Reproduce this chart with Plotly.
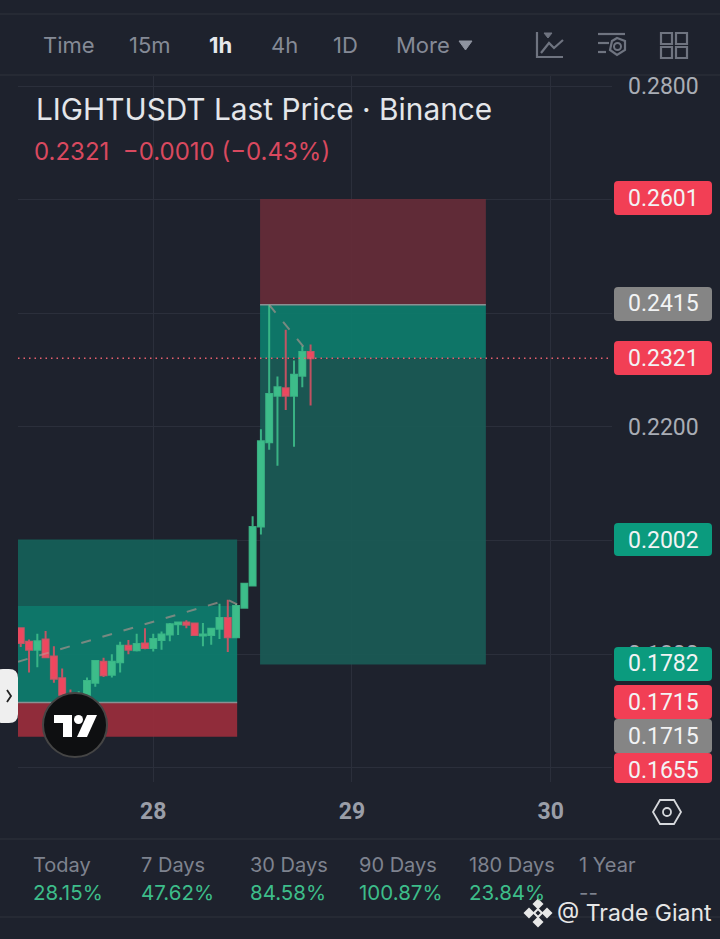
import pandas as pd
import plotly.graph_objects as go

# hourly candles, 27th 08:00 onwards
candle_times = pd.date_range("2025-11-27 08:00", periods=36, freq="h")
opens = [.1846, .1822, .1808, .1826, .1796, .1758, .1729, .1720, .1729, .1750, .1787, .1764,
         .1786, .1815, .1807, .1819, .1811, .1825, .1835, .1853, .1856, .1854, .1833, .1834,
         .1845, .1864, .1830, .1882, .1921, .2025, .2173, .2255, .2268, .2255, .2290, .2332]
highs = [.1846, .1826, .1836, .1841, .1814, .1775, .1738, .1735, .1759, .1789, .1794, .1800,
         .1822, .1825, .1836, .1846, .1836, .1840, .1855, .1857, .1860, .1855, .1855, .1846,
         .1889, .1896, .1889, .1924, .2043, .2196, .2415, .2289, .2371, .2317, .2342, .2345]
lows = [.1813, .1768, .1777, .1795, .1750, .1720, .1711, .1712, .1725, .1743, .1760, .1759,
        .1768, .1800, .1805, .1809, .1805, .1808, .1823, .1834, .1846, .1833, .1814, .1817,
        .1827, .1804, .1830, .1882, .1921, .2011, .2160, .2132, .2230, .2165, .2270, .2238]
closes = [.1820, .1808, .1823, .1795, .1757, .1729, .1720, .1729, .1753, .1788, .1763, .1787,
          .1815, .1808, .1818, .1811, .1827, .1835, .1853, .1856, .1852, .1834, .1835, .1845,
          .1864, .1830, .1885, .1924, .2024, .2175, .2258, .2270, .2255, .2292, .2332, .2321]

# the two long/short position tools: target, middle, entry, stop
first_trade_times = ["2025-11-27 06:00", "2025-11-28 10:08"]
first_trade_prices = [.2002, .1885, .1715, .1655]
second_trade_times = ["2025-11-28 12:54", "2025-11-29 16:10"]
second_trade_prices = [.2601, .2415, .2321, .1782]

# dashed paths inside each tool
first_path_times = ["2025-11-27 07:40", "2025-11-28 09:00", "2025-11-28 10:08"]
first_path_prices = [.1787, .1896, .1888]
second_path_times = ["2025-11-28 14:00", "2025-11-28 18:30"]
second_path_prices = [.2415, .2335]

last_price = .2321
axis_ticks = [.16, .18, .20, .22, .24, .26, .28]
axis_labels = ["0.1600", "0.1800", "0.2000", "0.2200", "0.2400", "0.2600", "0.2800"]
day_ticks = ["2025-11-28", "2025-11-29", "2025-11-30"]
day_labels = ["28", "29", "30"]

menu_items = ["Time", "15m", "1h", "4h", "1D", "More"]
menu_x = [43, 129, 209, 271, 333, 396]
period_names = ["Today", "7 Days", "30 Days", "90 Days", "180 Days", "1 Year"]
period_values = ["28.15%", "47.62%", "84.58%", "100.87%", "23.84%", "--"]
period_x = [33, 141, 250, 359, 469, 579]

badge_text = ["0.2601", "0.2415", "0.2321", "0.2002", "0.1782", "0.1715", "0.1715", "0.1655"]
badge_colors = ["#f23f55", "#858585", "#f23f55", "#0b9b7e", "#0b9b7e", "#f23f55", "#858585", "#f23f55"]
badge_top = [181, 287, 341, 523, 647, 685, 719, 753]
badge_bottom = [215, 321, 375, 556, 681, 719, 753, 783]
badge_text_y = [198, 304, 358, 540, 664, 702, 736, 770]

BG = "#1e222d"
GRID = "#2b2f3b"
GREEN = "#3dbd8a"
RED = "#f0465e"
ICON = "#6f7480"


def px(x):
    return x / 720


# plotly keeps 3px at the top even with a zero margin, so paper height is 936
def py(y):
    return (939 - y) / 936


def path(points, close=False):
    s = "M " + " L ".join(f"{px(x):.5f},{py(y):.5f}" for x, y in points)
    return s + " Z" if close else s


def rounded(x0, y0, x1, y1, r=4):
    return (f"M {px(x0 + r):.5f},{py(y0):.5f} L {px(x1 - r):.5f},{py(y0):.5f} "
            f"Q {px(x1):.5f},{py(y0):.5f} {px(x1):.5f},{py(y0 + r):.5f} "
            f"L {px(x1):.5f},{py(y1 - r):.5f} Q {px(x1):.5f},{py(y1):.5f} {px(x1 - r):.5f},{py(y1):.5f} "
            f"L {px(x0 + r):.5f},{py(y1):.5f} Q {px(x0):.5f},{py(y1):.5f} {px(x0):.5f},{py(y1 - r):.5f} "
            f"L {px(x0):.5f},{py(y0 + r):.5f} Q {px(x0):.5f},{py(y0):.5f} {px(x0 + r):.5f},{py(y0):.5f} Z")


fig = go.Figure()
fig.add_trace(go.Candlestick(
    x=candle_times, open=opens, high=highs, low=lows, close=closes,
    increasing=dict(line=dict(color="rgba(61,189,138,0.9)", width=2), fillcolor=GREEN),
    decreasing=dict(line=dict(color="rgba(226,80,100,0.85)", width=2), fillcolor=RED),
    whiskerwidth=0, showlegend=False,
))
fig.add_trace(go.Scatter(x=first_path_times, y=first_path_prices, mode="lines", showlegend=False,
                         line=dict(color="rgba(190,150,145,0.6)", width=2, dash="10px,12px")))
fig.add_trace(go.Scatter(x=second_path_times, y=second_path_prices, mode="lines", showlegend=False,
                         line=dict(color="rgba(190,150,145,0.6)", width=2, dash="10px,12px")))

shapes = []


def band(times, top, bottom, color):
    shapes.append(dict(type="rect", xref="x", yref="y", x0=times[0], x1=times[1], y0=bottom, y1=top,
                       fillcolor=color, line_width=0, layer="between"))


def entry_line(times, price):
    shapes.append(dict(type="line", xref="x", yref="y", x0=times[0], x1=times[1], y0=price, y1=price,
                       line=dict(color="#8b8f92", width=1.5), layer="between"))


band(first_trade_times, first_trade_prices[0], first_trade_prices[1], "rgba(20,98,90,0.9)")
band(first_trade_times, first_trade_prices[1], first_trade_prices[2], "rgba(12,128,112,0.9)")
band(first_trade_times, first_trade_prices[2], first_trade_prices[3], "rgba(156,46,60,0.9)")
entry_line(first_trade_times, first_trade_prices[2])
band(second_trade_times, second_trade_prices[0], second_trade_prices[1], "rgba(102,44,56,0.92)")
band(second_trade_times, second_trade_prices[1], second_trade_prices[2], "rgba(12,126,110,0.9)")
band(second_trade_times, second_trade_prices[2], second_trade_prices[3], "rgba(26,92,86,0.9)")
entry_line(second_trade_times, second_trade_prices[1])

shapes.append(dict(type="line", xref="paper", yref="y", x0=px(18), x1=px(608), y0=last_price, y1=last_price,
                   line=dict(color="#e8606f", width=1.5, dash="1.5px,4px")))

# hairlines across the page
for y in [14, 75, 839, 917]:
    shapes.append(dict(type="line", xref="paper", yref="paper", x0=0, x1=1, y0=py(y), y1=py(y),
                       line=dict(color="#2e323d", width=1)))


def icon(points, color=ICON, width=2.2, close=False, fill=None):
    shapes.append(dict(type="path", xref="paper", yref="paper", path=path(points, close),
                       line=dict(color=color, width=width), fillcolor=fill))


# badges on the price axis
for top, bottom, color in zip(badge_top, badge_bottom, badge_colors):
    shapes.append(dict(type="path", xref="paper", yref="paper", path=rounded(614, top, 712, bottom),
                       fillcolor=color, line_width=0))

# top right icons
icon([(537, 32), (537, 57), (563, 57)])
icon([(541, 53), (549, 43), (554, 48), (563, 40)])
icon([(544, 33), (552, 33), (548, 38)], width=1, close=True, fill=ICON)
icon([(598, 34), (625, 34)])
icon([(598, 43), (609, 43)])
icon([(598, 52), (606, 52)])
icon([(612, 41), (617, 38), (625, 41), (625, 50), (617, 55), (610, 50)], close=True)
for x0, y0 in [(661, 33), (676, 33), (661, 47), (676, 47)]:
    icon([(x0, y0), (x0 + 11, y0), (x0 + 11, y0 + 11), (x0, y0 + 11)], close=True)
icon([(459, 41), (472, 41), (465.5, 50)], color="#8f94a0", width=1, close=True, fill="#8f94a0")
shapes.append(dict(type="circle", xref="paper", yref="paper", x0=px(614), x1=px(621), y0=py(50), y1=py(43),
                   line=dict(color=ICON, width=2)))

# hexagon settings button
icon([(653, 812), (660, 800), (674, 800), (681, 812), (674, 824), (660, 824)], color="#d6d8dc", width=1.8, close=True)
shapes.append(dict(type="circle", xref="paper", yref="paper", x0=px(663), x1=px(671), y0=py(816), y1=py(808),
                   line=dict(color="#d6d8dc", width=1.8)))

# side handle
shapes.append(dict(type="path", xref="paper", yref="paper", path=rounded(-6, 669, 18, 723, r=9),
                   fillcolor="#efefef", line_width=0))
icon([(7, 690), (11, 696), (7, 702)], color="#222222", width=1.8)

# TradingView badge
shapes.append(dict(type="circle", xref="paper", yref="paper", x0=px(43), x1=px(107), y0=py(757), y1=py(693),
                   fillcolor="#0e0f11", line=dict(color="#454545", width=2)))
icon([(54, 715), (72, 715), (72, 737), (63, 737), (63, 723), (54, 723)], color="#ffffff", width=0, close=True, fill="#ffffff")
icon([(87, 715), (97, 715), (87, 737), (77, 737)], color="#ffffff", width=0, close=True, fill="#ffffff")
shapes.append(dict(type="circle", xref="paper", yref="paper", x0=px(74), x1=px(83), y0=py(724), y1=py(715),
                   fillcolor="#ffffff", line_width=0))

# watermark diamond
for cx, cy in [(538, 904), (529, 913), (547, 913), (538, 922)]:
    icon([(cx, cy - 5.5), (cx + 5.5, cy), (cx, cy + 5.5), (cx - 5.5, cy)], color="#e8e8e8", width=0, close=True, fill="#e8e8e8")
icon([(538, 909), (542, 913), (538, 917), (534, 913)], color="#e8e8e8", width=2, close=True)

notes = []


def note(x, y, text, size, color, anchor="left", font="Inter"):
    notes.append(dict(xref="paper", yref="paper", x=px(x), y=py(y), text=text, showarrow=False,
                      xanchor=anchor, yanchor="middle", borderpad=0, borderwidth=0,
                      font=dict(size=size, color=color, family=font)))


for name, x in zip(menu_items, menu_x):
    if name == "1h":
        note(x, 45, "<b>1h</b>", 22, "#e6e8ec")
    else:
        note(x, 45, name, 22, "#858a96")

note(36, 109, "LIGHTUSDT Last Price · Binance", 29.8, "#e4e6ea")
note(34, 151, "0.2321  −0.0010 (−0.43%)", 24, "#d9495f")

for text, y in zip(badge_text, badge_text_y):
    note(663, y, text, 23, "#f2f3f4", anchor="center", font="Roboto")

for name, value, x in zip(period_names, period_values, period_x):
    note(x, 865, name, 20, "#7e838f")
    note(x, 892, value, 20.5, "#7e838f" if value == "--" else GREEN)

note(557, 913, "@ Trade Giant", 23, "#e6e6e6")

fig.update_layout(
    width=720, height=939,
    margin=dict(l=0, r=0, t=0, b=0),
    paper_bgcolor=BG, plot_bgcolor=BG,
    boxgap=0.28, boxgroupgap=0,
    showlegend=False,
    shapes=shapes, annotations=notes,
    font=dict(family="Roboto"),
    xaxis=dict(
        domain=[px(18), px(612)],
        type="date",
        range=["2025-11-27 07:40", "2025-11-30 07:24"],
        rangeslider=dict(visible=False),
        tickvals=day_ticks, ticktext=day_labels,
        tickfont=dict(size=23, color="#9a9ea8", family="Roboto", weight="bold"),
        ticklabelstandoff=13,
        ticks="", showline=False, zeroline=False,
        gridcolor=GRID, gridwidth=1,
    ),
    yaxis=dict(
        domain=[py(782), py(76)],
        side="right",
        anchor="x",
        range=[.15753, .28176],
        tickvals=axis_ticks, ticktext=axis_labels,
        tickfont=dict(size=23, color="#a9adb5", family="Roboto"),
        ticklabelstandoff=15,
        ticks="", showline=False, zeroline=False,
        gridcolor=GRID, gridwidth=1,
    ),
)

fig.write_html("out.html", config=dict(displayModeBar=False),
               post_script="document.body.style.margin='0';document.body.style.background='#1e222d';document.body.style.overflow='hidden';")
